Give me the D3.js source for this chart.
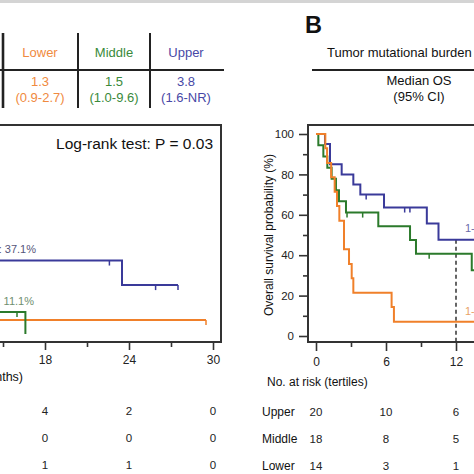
<!DOCTYPE html>
<html lang="en">
<head>
<meta charset="UTF-8">
<script src="https://d3js.org/d3.v7.min.js"></script>
<style>
    body { margin: 0; background: #fff; }
    svg { display: block; font-family: "Liberation Sans", Arial, sans-serif; }
    .axis text { font-family: "Liberation Sans", Arial, sans-serif; fill: #222; }
    .axis line { stroke: #333; stroke-width: 1.6; }
</style>
</head>
<body>
<svg id="chart" width="474" height="474"></svg>
<script>
// groups and colours
const lineColor = {Upper: "#3a3a9a", Middle: "#2b7a2b", Lower: "#f0802a"};
const textColor = {Upper: "#4848a6", Middle: "#3a8a3a", Lower: "#f08a40"};

// panel A table: median (95% CI)
const tableGroups = ["Lower", "Middle", "Upper"];
const tableMedian = ["1.3", "1.5", "3.8"];
const tableCI = ["(0.9-2.7)", "(1.0-9.6)", "(1.6-NR)"];

// panel A curves, visible part only: [month, %]
const pfsUpper = [[10, 37.1], [23.5, 24.7], [27.5, 24.7]];
const pfsMiddle = [[10, 11.1], [16.6, 0]];
const pfsLower = [[10, 7.1], [29.5, 7.1]];
const pfsCensorUpper = [[22.6, 37.1], [25.9, 24.7], [27.5, 24.7]];
const pfsCensorMiddle = [[16.0, 11.1]];
const pfsCensorLower = [[29.5, 7.1]];

// panel A ticks and at-risk numbers
const xTicksA = [12, 18, 24, 30];
const xMinorA = [15, 21, 27];
const riskTimesA = [18, 24, 30];
const riskUpperA = [4, 2, 0];
const riskMiddleA = [0, 0, 0];
const riskLowerA = [1, 1, 0];

// panel B curves: [month, %]
const osUpper = [[0, 100], [0.77, 95], [1.2, 85], [2.2, 80], [3.2, 75], [3.8, 70], [5.83, 63.6], [9.5, 55.7], [10.5, 47.7], [14, 47.7]];
const osMiddle = [[0, 100], [0.2, 94.4], [0.63, 88.9], [0.97, 83.3], [1.34, 77.8], [1.71, 72.2], [1.97, 66.7], [2.57, 61.1], [5.34, 54.3], [8.06, 47.5], [8.57, 40.7], [13.35, 32.6], [14, 32.6]];
const osLower = [[0, 100], [0.8, 92.9], [0.95, 85.7], [1.3, 78.6], [1.6, 71.4], [1.8, 64.3], [2.0, 57.1], [2.4, 42.9], [2.83, 35.7], [3.06, 28.6], [3.2, 21.4], [6.48, 14.3], [6.68, 7.1], [14, 7.1]];
const osCensorUpper = [[4.3, 70], [7.6, 63.6], [8.05, 63.6]];
const osCensorMiddle = [[2.66, 61.1], [4.0, 61.1], [9.7, 40.7]];

// panel B ticks and at-risk numbers
const yTicksB = [0, 20, 40, 60, 80, 100];
const yMinorB = [10, 30, 50, 70, 90];
const xTicksB = [0, 6, 12, 18];
const xMinorB = [3, 9, 15];
const riskTimesB = [0, 6, 12];
const riskUpperB = [20, 10, 6];
const riskMiddleB = [18, 8, 5];
const riskLowerB = [14, 3, 1];

const svg = d3.select("#chart");

// top grey band of the page
svg.append("rect").attr("x", 0).attr("y", 0).attr("width", 474).attr("height", 3).attr("fill", "#d4d4d4");

// ---------- panel A ----------
const xA = d3.scaleLinear().domain([0, 30]).range([-207, 213]);
const yA = d3.scaleLinear().domain([0, 100]).range([334, 136]);

// table
[3, 78, 150].forEach((x, i) => {
    svg.append("line").attr("x1", x).attr("x2", x).attr("y1", 33).attr("y2", 108)
        .attr("stroke", "#222").attr("stroke-width", i === 0 ? 2.6 : 2);
});
svg.append("line").attr("x1", 0).attr("x2", 224).attr("y1", 70).attr("y2", 70)
    .attr("stroke", "#222").attr("stroke-width", 2);
const colX = [40, 114, 186];
tableGroups.forEach((g, i) => {
    const t = svg.append("g").attr("font-size", 13).attr("text-anchor", "middle").attr("fill", textColor[g]);
    t.append("text").attr("x", colX[i]).attr("y", 56.5).text(g);
    t.append("text").attr("x", colX[i]).attr("y", 86).text(tableMedian[i]);
    t.append("text").attr("x", colX[i]).attr("y", 101.5).text(tableCI[i]);
});

// box
svg.append("path").attr("d", "M-5,125H221V342H-5").attr("fill", "none")
    .attr("stroke", "#333").attr("stroke-width", 2);

svg.append("text").attr("x", 213).attr("y", 149).attr("text-anchor", "end")
    .attr("font-size", 15.5).attr("fill", "#111").text("Log-rank test: P = 0.03");

const axA = svg.append("g").attr("class", "axis").attr("transform", "translate(0,342)")
    .call(d3.axisBottom(xA).tickValues(xTicksA).tickSize(8).tickPadding(5).tickFormat(d3.format("d")));
axA.select(".domain").remove();
axA.selectAll("text").attr("font-size", 12);
svg.append("g").attr("class", "axis").attr("transform", "translate(0,342)")
    .call(d3.axisBottom(xA).tickValues(xMinorA).tickSize(5).tickFormat(""))
    .select(".domain").remove();

const stepA = d3.line().x(d => xA(d[0])).y(d => yA(d[1])).curve(d3.curveStepAfter);
[[pfsLower, "Lower"], [pfsMiddle, "Middle"], [pfsUpper, "Upper"]].forEach(([s, g]) => {
    svg.append("path").datum(s).attr("d", stepA).attr("fill", "none")
        .attr("stroke", lineColor[g]).attr("stroke-width", 2);
});
[[pfsCensorLower, "Lower"], [pfsCensorMiddle, "Middle"], [pfsCensorUpper, "Upper"]].forEach(([c, g]) => {
    svg.selectAll(null).data(c).enter().append("line")
        .attr("x1", d => xA(d[0])).attr("x2", d => xA(d[0]))
        .attr("y1", d => yA(d[1])).attr("y2", d => yA(d[1]) + 5)
        .attr("stroke", lineColor[g]).attr("stroke-width", 1.5);
});

svg.append("text").attr("x", 36).attr("y", 253).attr("text-anchor", "end")
    .attr("font-size", 11).attr("fill", "#55557a").text("1-year PFS: 37.1%");
svg.append("text").attr("x", 34).attr("y", 305).attr("text-anchor", "end")
    .attr("font-size", 11).attr("fill", "#6f8f6f").text("1-year PFS: 11.1%");

svg.append("text").attr("x", 23).attr("y", 381).attr("text-anchor", "end")
    .attr("font-size", 12.5).attr("fill", "#111").text("Time (months)");

[[riskUpperA, 415], [riskMiddleA, 442], [riskLowerA, 469]].forEach(([row, y]) => {
    svg.selectAll(null).data(row).enter().append("text")
        .attr("x", (d, i) => xA(riskTimesA[i])).attr("y", y)
        .attr("text-anchor", "middle").attr("font-size", 11.5).attr("fill", "#222")
        .text(d => d);
});

// ---------- panel B ----------
const xB = d3.scaleLinear().domain([0, 12]).range([316, 456]);
const yB = d3.scaleLinear().domain([0, 100]).range([336, 134]);

svg.append("text").attr("x", 305).attr("y", 33).attr("font-size", 23.5)
    .attr("font-weight", "bold").attr("fill", "#111").text("B");
svg.append("text").attr("x", 327).attr("y", 57).attr("font-size", 13)
    .attr("fill", "#111").text("Tumor mutational burden");
svg.append("line").attr("x1", 312).attr("x2", 480).attr("y1", 70).attr("y2", 70)
    .attr("stroke", "#222").attr("stroke-width", 2);
svg.append("text").attr("x", 419).attr("y", 85).attr("text-anchor", "middle")
    .attr("font-size", 13).attr("fill", "#111").text("Median OS");
svg.append("text").attr("x", 419).attr("y", 101).attr("text-anchor", "middle")
    .attr("font-size", 13).attr("fill", "#111").text("(95% CI)");

svg.append("path").attr("d", "M480,125H308V342H480").attr("fill", "none")
    .attr("stroke", "#333").attr("stroke-width", 2);

const ayB = svg.append("g").attr("class", "axis").attr("transform", "translate(308,0)")
    .call(d3.axisLeft(yB).tickValues(yTicksB).tickSize(9).tickPadding(5));
ayB.select(".domain").remove();
ayB.selectAll("text").attr("font-size", 11.5);
svg.append("g").attr("class", "axis").attr("transform", "translate(308,0)")
    .call(d3.axisLeft(yB).tickValues(yMinorB).tickSize(5).tickFormat(""))
    .select(".domain").remove();

const axB = svg.append("g").attr("class", "axis").attr("transform", "translate(0,342)")
    .call(d3.axisBottom(xB).tickValues(xTicksB).tickSize(9).tickPadding(6.5));
axB.select(".domain").remove();
axB.selectAll("text").attr("font-size", 12);
svg.append("g").attr("class", "axis").attr("transform", "translate(0,342)")
    .call(d3.axisBottom(xB).tickValues(xMinorB).tickSize(5).tickFormat(""))
    .select(".domain").remove();

svg.append("text").attr("transform", "translate(273,235) rotate(-90)")
    .attr("text-anchor", "middle").attr("font-size", 12).attr("fill", "#111")
    .text("Overall survival probability (%)");

// 12-month reference
svg.append("line").attr("x1", xB(12)).attr("x2", xB(12))
    .attr("y1", yB(osUpper[osUpper.length - 1][1])).attr("y2", 342)
    .attr("stroke", "#333").attr("stroke-width", 1.5).attr("stroke-dasharray", "4,3");

const stepB = d3.line().x(d => xB(d[0])).y(d => yB(d[1])).curve(d3.curveStepAfter);
[[osMiddle, "Middle"], [osUpper, "Upper"], [osLower, "Lower"]].forEach(([s, g]) => {
    svg.append("path").datum(s).attr("d", stepB).attr("fill", "none")
        .attr("stroke", lineColor[g]).attr("stroke-width", 2);
});
[[osCensorMiddle, "Middle"], [osCensorUpper, "Upper"]].forEach(([c, g]) => {
    svg.selectAll(null).data(c).enter().append("line")
        .attr("x1", d => xB(d[0])).attr("x2", d => xB(d[0]))
        .attr("y1", d => yB(d[1])).attr("y2", d => yB(d[1]) + 5)
        .attr("stroke", lineColor[g]).attr("stroke-width", 1.5);
});

svg.append("text").attr("x", 465).attr("y", 232).attr("font-size", 11)
    .attr("fill", "#6a6aa8").text("1-year OS: 47.7%");
svg.append("text").attr("x", 465).attr("y", 315).attr("font-size", 11)
    .attr("fill", "#e9a268").text("1-year OS: 7.1%");

svg.append("text").attr("x", 267).attr("y", 386).attr("font-size", 12)
    .attr("fill", "#111").text("No. at risk (tertiles)");
[["Upper", riskUpperB, 416], ["Middle", riskMiddleB, 443], ["Lower", riskLowerB, 470]].forEach(([g, row, y]) => {
    svg.append("text").attr("x", 262).attr("y", y).attr("font-size", 12)
        .attr("fill", "#111").text(g);
    svg.selectAll(null).data(row).enter().append("text")
        .attr("x", (d, i) => xB(riskTimesB[i])).attr("y", y)
        .attr("text-anchor", "middle").attr("font-size", 11.5).attr("fill", "#222")
        .text(d => d);
});
</script>
</body>
</html>
